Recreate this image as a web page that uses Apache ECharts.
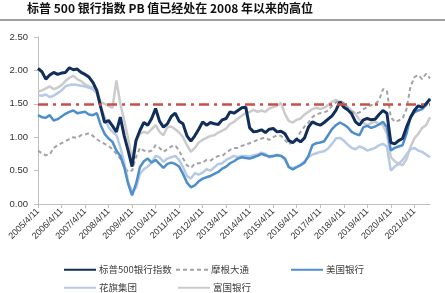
<!DOCTYPE html>
<html>
<head>
<meta charset="utf-8">
<script src="https://cdn.jsdelivr.net/npm/echarts@6/dist/echarts.min.js"></script>
<style>
html,body{margin:0;padding:0;background:#fff;}
#c{width:445px;height:293px;}
</style>
</head>
<body>
<div id="c"></div>
<script>
var titleText = '标普 500 银行指数 PB 值已经处在 2008 年以来的高位';
var seriesNames = ['标普500银行指数', '摩根大通', '美国银行', '花旗集团', '富国银行'];
var yTicks = [0, 0.5, 1.0, 1.5, 2.0, 2.5];
var refLevel = 1.5;

var categories = [
'2005/4/11','2005/6/11','2005/8/11','2005/10/11','2005/12/11',
'2006/2/11','2006/4/11','2006/6/11','2006/8/11','2006/10/11','2006/12/11',
'2007/2/11','2007/4/11','2007/6/11','2007/8/11','2007/10/11','2007/12/11',
'2008/2/11','2008/4/11','2008/6/11','2008/8/11','2008/10/11','2008/12/11',
'2009/2/11','2009/4/11','2009/6/11','2009/8/11','2009/10/11','2009/12/11',
'2010/2/11','2010/4/11','2010/6/11','2010/8/11','2010/10/11','2010/12/11',
'2011/2/11','2011/4/11','2011/6/11','2011/8/11','2011/10/11','2011/12/11',
'2012/2/11','2012/4/11','2012/6/11','2012/8/11','2012/10/11','2012/12/11',
'2013/2/11','2013/4/11','2013/6/11','2013/8/11','2013/10/11','2013/12/11',
'2014/2/11','2014/4/11','2014/6/11','2014/8/11','2014/10/11','2014/12/11',
'2015/2/11','2015/4/11','2015/6/11','2015/8/11','2015/10/11','2015/12/11',
'2016/2/11','2016/4/11','2016/6/11','2016/8/11','2016/10/11','2016/12/11',
'2017/2/11','2017/4/11','2017/6/11','2017/8/11','2017/10/11','2017/12/11',
'2018/2/11','2018/4/11','2018/6/11','2018/8/11','2018/10/11','2018/12/11',
'2019/2/11','2019/4/11','2019/6/11','2019/8/11','2019/10/11','2019/12/11',
'2020/2/11','2020/4/11','2020/6/11','2020/8/11','2020/10/11','2020/12/11',
'2021/2/11','2021/4/11','2021/6/11','2021/8/11','2021/10/11','2021/12/11'
];

var spBanks = [
2.03,1.98,1.87,1.93,1.97,1.94,1.96,1.97,2.04,2.01,
2.02,1.97,1.94,1.90,1.82,1.70,1.45,1.22,1.25,1.17,
1.08,1.30,1.02,0.80,0.56,0.95,1.10,1.22,1.18,1.28,
1.43,1.24,1.15,1.20,1.31,1.36,1.24,1.20,1.02,0.94,
1.02,1.12,1.23,1.18,1.22,1.20,1.19,1.26,1.28,1.38,
1.36,1.40,1.44,1.45,1.14,1.08,1.09,1.11,1.07,1.12,
1.13,1.08,1.09,1.05,0.95,0.92,0.97,0.93,0.99,1.15,
1.23,1.20,1.18,1.22,1.27,1.32,1.40,1.53,1.45,1.41,
1.35,1.23,1.18,1.26,1.28,1.26,1.27,1.34,1.40,1.36,
0.92,0.90,0.95,0.98,1.15,1.29,1.40,1.47,1.45,1.50,
1.57
];

var jpm = [
0.80,0.76,0.73,0.74,0.84,0.88,0.91,0.94,0.97,1.00,
0.99,1.03,1.04,1.06,1.02,0.97,0.93,0.90,0.87,0.82,
0.75,0.68,0.56,0.48,0.50,0.70,0.84,0.80,0.78,0.80,
0.88,0.84,0.78,0.82,0.86,0.88,0.80,0.68,0.58,0.54,
0.60,0.61,0.62,0.66,0.65,0.69,0.72,0.72,0.77,0.81,
0.84,0.84,0.87,0.89,0.91,0.93,0.96,0.98,0.99,0.96,
1.00,1.03,1.02,0.96,0.89,0.94,0.98,1.08,1.16,1.22,
1.30,1.34,1.36,1.37,1.40,1.47,1.52,1.55,1.51,1.44,
1.38,1.36,1.37,1.42,1.45,1.48,1.50,1.55,1.72,1.70,
1.30,1.23,1.25,1.28,1.42,1.75,1.90,1.93,1.87,1.95,
1.88
];

var bac = [
1.33,1.30,1.29,1.33,1.25,1.27,1.31,1.35,1.38,1.40,
1.36,1.37,1.38,1.34,1.33,1.36,1.18,1.05,0.98,0.93,
0.80,0.72,0.55,0.30,0.13,0.30,0.55,0.64,0.68,0.62,
0.66,0.60,0.54,0.60,0.62,0.60,0.56,0.45,0.32,0.25,
0.28,0.34,0.38,0.40,0.42,0.45,0.48,0.53,0.56,0.61,
0.64,0.68,0.70,0.69,0.68,0.70,0.72,0.75,0.73,0.71,
0.72,0.73,0.72,0.68,0.55,0.52,0.55,0.58,0.62,0.72,
0.88,0.91,0.92,0.94,1.03,1.12,1.18,1.22,1.19,1.15,
1.08,1.05,1.03,1.15,1.17,1.14,1.16,1.19,1.23,1.15,
0.80,0.84,0.86,0.88,1.05,1.30,1.37,1.40,1.42,1.48,
1.58
];

var citi = [
1.63,1.62,1.64,1.60,1.62,1.66,1.70,1.76,1.78,1.79,
1.78,1.77,1.76,1.74,1.72,1.66,1.45,1.30,1.15,1.08,
1.03,0.85,0.62,0.33,0.18,0.24,0.45,0.52,0.56,0.62,
0.72,0.70,0.63,0.68,0.70,0.72,0.66,0.55,0.42,0.38,
0.46,0.44,0.47,0.52,0.50,0.55,0.60,0.61,0.66,0.69,
0.72,0.70,0.72,0.72,0.71,0.73,0.74,0.77,0.75,0.70,
0.71,0.74,0.72,0.66,0.55,0.54,0.56,0.59,0.64,0.70,
0.74,0.76,0.78,0.79,0.83,0.90,0.98,0.99,0.95,0.89,
0.84,0.82,0.86,0.84,0.80,0.82,0.84,0.88,0.90,0.86,
0.50,0.56,0.60,0.66,0.74,0.82,0.84,0.80,0.78,0.74,
0.70
];

var wfc = [
1.68,1.70,1.73,1.76,1.72,1.74,1.78,1.84,1.89,1.92,
1.87,1.84,1.79,1.76,1.74,1.68,1.53,1.50,1.47,1.44,
1.85,1.50,1.25,0.98,0.68,0.95,1.05,1.08,1.06,1.12,
1.18,1.08,1.03,1.15,1.16,1.12,1.07,1.00,0.88,0.78,
0.84,0.92,0.96,0.99,1.02,1.03,1.07,1.10,1.13,1.20,
1.23,1.28,1.32,1.36,1.38,1.41,1.38,1.40,1.38,1.43,
1.45,1.47,1.51,1.35,1.24,1.22,1.26,1.28,1.34,1.38,
1.42,1.44,1.42,1.44,1.48,1.53,1.56,1.53,1.50,1.45,
1.40,1.35,1.26,1.22,1.18,1.21,1.23,1.20,1.18,1.05,
0.70,0.64,0.60,0.58,0.67,0.85,0.98,1.05,1.14,1.18,
1.30
];

var colors = {
  sp: '#112E5A',
  jpm: '#A3A3A3',
  bac: '#4D8ECB',
  citi: '#B6CAE5',
  wfc: '#CBCBCB',
  ref: '#C8504A'
};

var chart = echarts.init(document.getElementById('c'), null, {renderer: 'canvas'});

function legendItem(name, left, top) {
  return {
    data: [name],
    left: left,
    top: top,
    orient: 'horizontal',
    itemWidth: 32,
    itemHeight: 8,
    itemGap: 4,
    selectedMode: false,
    itemStyle: {opacity: 0, borderWidth: 0},
    textStyle: {fontSize: 9.5, color: '#404040', fontFamily: '"Noto Sans CJK SC", sans-serif', padding: [0,0,0,-2]}
  };
}

var option = {
  animation: false,
  backgroundColor: '#ffffff',
  graphic: [
    {
      type: 'text',
      left: 27,
      top: 2,
      style: {
        text: titleText,
        fontSize: 12,
        fontWeight: 'bold',
        fontFamily: '"Noto Sans CJK SC", sans-serif',
        fill: '#111'
      }
    },
    {
      type: 'line',
      shape: {x1: 0, y1: 20, x2: 445, y2: 20},
      style: {stroke: '#7f7f7f', lineWidth: 1.5}
    }
  ],
  legend: [
    legendItem(seriesNames[0], 58, 260),
    legendItem(seriesNames[1], 170, 260),
    legendItem(seriesNames[2], 285, 260),
    legendItem(seriesNames[3], 58, 278),
    legendItem(seriesNames[4], 172, 278)
  ],
  grid: {left: 38, right: 15, top: 37, bottom: 89, containLabel: false},
  xAxis: {
    type: 'category',
    data: categories,
    boundaryGap: false,
    axisLine: {lineStyle: {color: '#BFBFBF', width: 1}},
    axisTick: {show: true, interval: 5, length: 4, lineStyle: {color: '#BFBFBF'}},
    axisLabel: {
      interval: 5,
      rotate: 45,
      fontSize: 9,
      color: '#333',
      margin: 6,
      hideOverlap: false,
      fontFamily: 'Liberation Sans, Arial, sans-serif'
    },
    splitLine: {show: false}
  },
  yAxis: {
    type: 'value',
    min: yTicks[0],
    max: yTicks[yTicks.length - 1],
    interval: 0.5,
    axisLine: {show: true, lineStyle: {color: '#BFBFBF', width: 1}},
    axisTick: {show: true, length: 4, lineStyle: {color: '#BFBFBF'}},
    axisLabel: {
      fontSize: 9.5,
      color: '#333',
      margin: 10,
      fontFamily: 'Liberation Sans, Arial, sans-serif',
      formatter: function (v) { return v.toFixed(2); }
    },
    splitLine: {show: false}
  },
  series: [
    {
      name: seriesNames[4], type: 'line', data: wfc, symbol: 'none',
      lineStyle: {color: colors.wfc, width: 2.5}, itemStyle: {color: colors.wfc}
    },
    {
      name: seriesNames[1], type: 'line', data: jpm, symbol: 'none',
      lineStyle: {color: colors.jpm, width: 2, type: [4, 3]}, itemStyle: {color: colors.jpm}
    },
    {
      name: seriesNames[3], type: 'line', data: citi, symbol: 'none',
      lineStyle: {color: colors.citi, width: 2.5}, itemStyle: {color: colors.citi}
    },
    {
      name: seriesNames[2], type: 'line', data: bac, symbol: 'none',
      lineStyle: {color: colors.bac, width: 2.5}, itemStyle: {color: colors.bac}
    },
    {
      name: seriesNames[0], type: 'line', data: spBanks, symbol: 'none',
      lineStyle: {color: colors.sp, width: 3}, itemStyle: {color: colors.sp},
      markLine: {
        silent: true,
        symbol: 'none',
        label: {show: false},
        lineStyle: {color: colors.ref, width: 2.5, type: [10, 5, 3, 5], opacity: 1},
        data: [{yAxis: refLevel}]
      },
      z: 3
    }
  ]
};

chart.setOption(option);
</script>
</body>
</html>
